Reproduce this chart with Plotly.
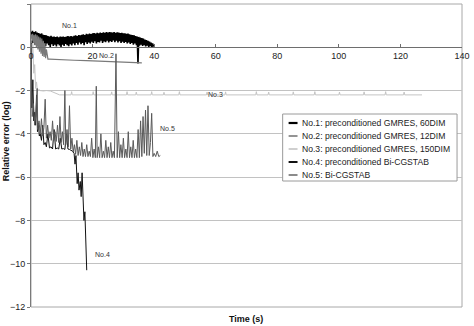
import numpy as np
import plotly.graph_objects as go

# ---- convergence histories: relative error (log10) versus wall time (s) ----

SERIES_NAMES = [
    "No.1: preconditioned GMRES, 60DIM",
    "No.2: preconditioned GMRES, 12DIM",
    "No.3: preconditioned GMRES, 150DIM",
    "No.4: preconditioned Bi-CGSTAB",
    "No.5: Bi-CGSTAB",
]
SHORT_LABELS = ["No.1", "No.2", "No.3", "No.4", "No.5"]

# No.1 is logged every 0.25 s
NO1_DT = 0.25
no1_err = [
    0.72, 0.15, 0.76, 0.20, 0.70, 0.12, 0.74, 0.25, 0.68,
    0.18, 0.66, 0.10, 0.62, 0.20, 0.64, 0.08, 0.58,
    0.15, 0.56, 0.05, 0.55, 0.18, 0.52, 0.10, 0.50,
    0.02, 0.53, 0.14, 0.48, 0.06, 0.50, 0.12, 0.47,
    0.04, 0.50, 0.15, 0.46, 0.08, 0.49, 0.02, 0.48,
    0.12, 0.50, 0.06, 0.47, 0.16, 0.50, 0.10, 0.52,
    0.05, 0.49, 0.14, 0.52, 0.08, 0.50, 0.18, 0.53,
    0.10, 0.55, 0.20, 0.52, 0.12, 0.56, 0.22, 0.55,
    0.14, 0.58, 0.20, 0.60, 0.10, 0.57, 0.24, 0.62,
    0.15, 0.60, 0.22, 0.63, 0.18, 0.61, 0.26, 0.64,
    0.20, 0.66, 0.28, 0.63, 0.18, 0.67, 0.25, 0.65,
    0.22, 0.68, 0.30, 0.66, 0.20, 0.69, 0.27, 0.67,
    0.24, 0.70, 0.30, 0.68, 0.22, 0.70, 0.28, 0.69,
    0.25, 0.68, 0.32, 0.70, 0.24, 0.67, 0.30, 0.69,
    0.22, 0.68, 0.28, 0.66, 0.20, 0.67, 0.26, 0.65,
    0.20, 0.64, 0.25, 0.62, 0.18, 0.63, 0.22, 0.60,
    0.16, 0.58, 0.20, 0.57, 0.12, 0.55, 0.18, 0.52,
    0.10, 0.50, -0.75, 0.48, 0.08, 0.45, 0.12, 0.42,
    0.06, 0.40, 0.10, 0.36, 0.04, 0.33, 0.08, 0.30,
    0.02, 0.26, 0.05, 0.22, 0.00, 0.18, 0.04, 0.10,
]

no2_t = [0.0, 0.25, 0.5, 0.75, 1.0, 1.25, 1.5, 1.75, 2.0, 2.25, 2.5, 2.75, 3.0,
         3.25, 3.5, 3.75, 4.0, 4.25, 4.5, 4.75, 5.0, 5.5, 6.0, 8.0, 10.0, 14.0,
         18.0, 22.0, 26.0, 30.0, 34.0, 36.0]
no2_err = [0.60, 0.30, 0.62, 0.20, 0.58, 0.10, 0.60, 0.00, 0.55, -0.10, 0.50,
           -0.20, 0.45, -0.30, 0.40, -0.40, 0.30, -0.45, 0.20, -0.50, -0.10,
           -0.55, -0.55, -0.57, -0.58, -0.60, -0.62, -0.64, -0.66, -0.68,
           -0.70, -0.72]

no3_t = [0.0, 0.3, 0.6, 0.9, 1.2, 1.5, 1.8, 2.1, 2.5, 3.0, 4.0, 5.0, 6.3, 7.5,
         8.5, 9.3, 13.0, 13.2, 13.4, 20.0, 20.2, 20.4, 26.0, 26.2, 26.4, 31.0,
         31.2, 31.4, 34.0, 34.2, 34.4, 39.0, 39.2, 39.4, 43.0, 43.2, 43.4, 48.0,
         48.2, 48.4, 57.0, 57.2, 57.4, 63.0, 63.2, 63.4, 73.0, 73.2, 73.4, 77.0,
         77.2, 77.4, 85.0, 85.2, 85.4, 92.0, 92.2, 92.4, 100.0, 100.2, 100.4,
         108.0, 108.2, 108.4, 115.0, 115.2, 115.4, 121.0, 121.2, 121.4, 127.0]
no3_err = [0.40, -0.50, 0.20, -1.20, -0.80, -1.90, -1.60, -2.05, -1.95, -2.00,
           -2.02, -2.00, -2.02, -2.10, -2.18, -2.20, -2.20, -2.05, -2.20, -2.20,
           -2.05, -2.20, -2.20, -2.06, -2.20, -2.20, -2.05, -2.20, -2.20, -2.07,
           -2.20, -2.20, -2.05, -2.20, -2.20, -2.08, -2.20, -2.20, -2.05, -2.20,
           -2.20, -2.07, -2.20, -2.20, -2.06, -2.20, -2.20, -2.05, -2.20, -2.20,
           -2.07, -2.20, -2.20, -2.06, -2.20, -2.20, -2.05, -2.20, -2.20, -2.07,
           -2.20, -2.20, -2.06, -2.20, -2.20, -2.05, -2.20, -2.20, -2.07, -2.20,
           -2.20]

no4_t = [0.0, 0.3, 0.6, 0.9, 1.2, 1.5, 1.8, 2.1, 2.4, 2.7, 3.0, 3.4, 3.8, 4.2,
         4.6, 5.0, 5.5, 6.0, 6.5, 7.0, 7.5, 8.0, 8.5, 9.0, 9.5, 10.0, 10.5,
         11.0, 11.5, 12.0, 12.5, 13.0, 13.5, 14.0, 14.3, 14.6, 15.0, 15.3, 15.6,
         16.0, 16.3, 16.6, 16.9, 17.2, 17.5, 17.8, 18.1]
no4_err = [0.20, -2.80, -1.50, -3.40, -3.00, -3.60, -2.20, -3.90, -3.50, -4.10,
           -4.00, -4.30, -3.60, -4.50, -4.40, -4.60, -4.00, -4.65, -4.60, -4.70,
           -3.80, -4.70, -4.65, -4.70, -4.20, -4.70, -4.68, -4.72, -4.00, -4.70,
           -4.72, -4.75, -4.80, -4.90, -5.40, -5.00, -6.30, -5.80, -6.60, -6.20,
           -6.90, -5.80, -7.50, -8.00, -7.60, -9.00, -10.30]

no5_t = [0.0, 0.4, 0.8, 1.2, 1.6, 2.0, 2.2, 2.6, 3.0, 3.4, 3.8, 4.2, 4.6, 5.0,
         5.4, 5.8, 6.2, 6.6, 7.0, 7.4, 7.8, 8.2, 8.6, 9.0, 9.4, 9.8, 10.2, 10.6,
         11.0, 11.3, 11.7, 12.1, 12.5, 12.9, 13.3, 13.7, 14.1, 14.5, 14.9, 15.3,
         15.7, 16.1, 16.5, 16.9, 17.3, 17.7, 18.1, 18.5, 18.9, 19.3, 19.7, 20.1,
         20.5, 20.9, 21.2, 21.5, 21.9, 22.3, 22.7, 23.1, 23.5, 23.9, 24.3, 24.7,
         25.1, 25.5, 25.9, 26.3, 26.7, 27.1, 27.6, 28.0, 28.4, 28.8, 29.2, 29.6,
         30.0, 30.4, 30.8, 31.2, 31.6, 32.0, 32.4, 32.8, 33.2, 33.6, 34.0, 34.4,
         34.8, 35.2, 35.6, 36.0, 36.4, 36.8, 37.2, 37.6, 38.0, 38.4, 38.8, 39.2,
         39.6, 40.0, 40.5, 41.0, 41.5, 42.0]
no5_err = [-0.20, -3.20, -2.60, -3.60, -3.10, -1.90, -3.80, -3.40, -4.00, -3.30,
           -4.10, -3.70, -2.40, -4.20, -3.60, -4.20, -3.90, -4.30, -3.40, -4.30,
           -3.90, -4.35, -3.60, -4.40, -3.20, -4.40, -3.90, -4.50, -2.00, -4.50,
           -3.80, -4.60, -2.70, -4.70, -4.20, -4.85, -4.50, -4.95, -4.30, -5.00,
           -4.60, -5.00, -4.40, -5.05, -4.70, -5.05, -4.50, -5.05, -4.80, -5.05,
           -4.20, -5.10, -4.70, -5.10, -1.80, -5.10, -4.60, -5.10, -4.00, -5.10,
           -4.80, -5.10, -4.30, -5.10, -4.60, -5.10, -4.40, -5.10, -4.80, -5.10,
           -0.30, -5.10, -3.90, -5.10, -4.50, -5.10, -4.20, -5.10, -4.70, -5.10,
           -3.90, -5.10, -4.60, -5.10, -4.30, -5.10, -4.70, -5.10, -3.80, -5.10,
           -3.40, -5.05, -3.20, -4.90, -2.90, -5.00, -2.70, -5.00, -4.40, -3.05,
           -5.05, -4.90, -5.05, -4.80, -5.05, -5.00]

# label anchors (data coordinates) for the in-plot tags
label_t = [12.4, 24.5, 60.0, 23.2, 44.2]
label_err = [1.0, -0.36, -2.16, -9.57, -3.73]

X_TICKS = [0, 20, 40, 60, 80, 100, 120, 140]
Y_TICKS = [2, 0, -2, -4, -6, -8, -10, -12]

# ---- styling ----
FONT = "Liberation Sans, Arial, sans-serif"
COLORS = ["#000000", "#7a7a7a", "#c4c4c4", "#111111", "#5a5a5a"]
WIDTHS = [1.6, 1.2, 1.0, 1.0, 1.0]
LEGEND_WIDTHS = [2.2, 1.6, 1.6, 2.0, 1.4]

W, H = 474, 326
PL, PR, PT, PB = 31, 466, 4, 307          # plot area in pixels


def px_to_paper(px, py):
    return (px - PL) / (PR - PL), (PB - py) / (PB - PT)


no1_t = np.arange(len(no1_err)) * NO1_DT
series = [
    (no1_t, no1_err),
    (no2_t, no2_err),
    (no3_t, no3_err),
    (no4_t, no4_err),
    (no5_t, no5_err),
]

fig = go.Figure()
for (t, e), name, c, w in zip(series, SERIES_NAMES, COLORS, WIDTHS):
    fig.add_trace(go.Scatter(x=t, y=e, mode="lines", name=name,
                             line=dict(color=c, width=w), showlegend=False))

y_min, y_max = min(Y_TICKS), max(Y_TICKS)

fig.update_layout(
    width=W, height=H,
    margin=dict(l=PL, r=W - PR, t=PT, b=H - PB),
    paper_bgcolor="white", plot_bgcolor="white",
    font=dict(family=FONT, size=9, color="#222222"),
    showlegend=False,
    xaxis=dict(
        range=[min(X_TICKS), max(X_TICKS)], tickvals=X_TICKS,
        showgrid=False, zeroline=False,
        showline=True, linecolor="#6e6e6e", linewidth=1,
        ticks="inside", ticklen=3, tickcolor="#6e6e6e",
        anchor="free", position=(0 - y_min) / (y_max - y_min),
        tickfont=dict(size=9, color="#222222"),
    ),
    yaxis=dict(
        range=[y_min, y_max], tickvals=Y_TICKS,
        showgrid=True, gridcolor="#c2c2c2", gridwidth=1,
        zeroline=False,
        showline=True, linecolor="#7a7a7a", linewidth=1,
        ticks="outside", ticklen=3, tickcolor="#7a7a7a",
        tickfont=dict(size=9, color="#222222"),
    ),
)

# plot-area frame
fig.add_shape(type="rect", xref="paper", yref="paper", x0=0, x1=1, y0=0, y1=1,
              line=dict(color="#a8a8a8", width=1), layer="below")

# series tags inside the plot
for lab, tx, ty in zip(SHORT_LABELS, label_t, label_err):
    fig.add_annotation(x=tx, y=ty, xref="x", yref="y", text=lab, showarrow=False,
                       xanchor="center", yanchor="middle",
                       font=dict(size=7, color="#333333", family=FONT))

# axis titles
tx, ty = px_to_paper(248, 319)
fig.add_annotation(x=tx, y=ty, xref="paper", yref="paper", text="<b>Time (s)</b>",
                   showarrow=False, xanchor="center", yanchor="middle",
                   font=dict(size=9, color="#111111", family=FONT))
tx, ty = px_to_paper(6, 141)
fig.add_annotation(x=tx, y=ty, xref="paper", yref="paper",
                   text="<b>Relative error (log)</b>", textangle=-90,
                   showarrow=False, xanchor="center", yanchor="middle",
                   font=dict(size=9, color="#111111", family=FONT))

# legend box
lx0, ly1 = px_to_paper(285, 114)
lx1, ly0 = px_to_paper(461, 181)
fig.add_shape(type="rect", xref="paper", yref="paper", x0=lx0, x1=lx1, y0=ly0, y1=ly1,
              line=dict(color="#9a9a9a", width=1), fillcolor="white", layer="above")
ROW0, ROW_STEP = 123, 13
for i, (name, c, lw) in enumerate(zip(SERIES_NAMES, COLORS, LEGEND_WIDTHS)):
    row_y = ROW0 + i * ROW_STEP
    ax0, ay = px_to_paper(291, row_y)
    ax1, _ = px_to_paper(300, row_y)
    fig.add_shape(type="line", xref="paper", yref="paper", x0=ax0, x1=ax1, y0=ay, y1=ay,
                  line=dict(color=c, width=lw), layer="above")
    txp, _ = px_to_paper(302, row_y)
    fig.add_annotation(x=txp, y=ay, xref="paper", yref="paper", text=name,
                       showarrow=False, xanchor="left", yanchor="middle",
                       font=dict(size=8.6, color="#222222", family=FONT))

fig.write_html("out.html")
